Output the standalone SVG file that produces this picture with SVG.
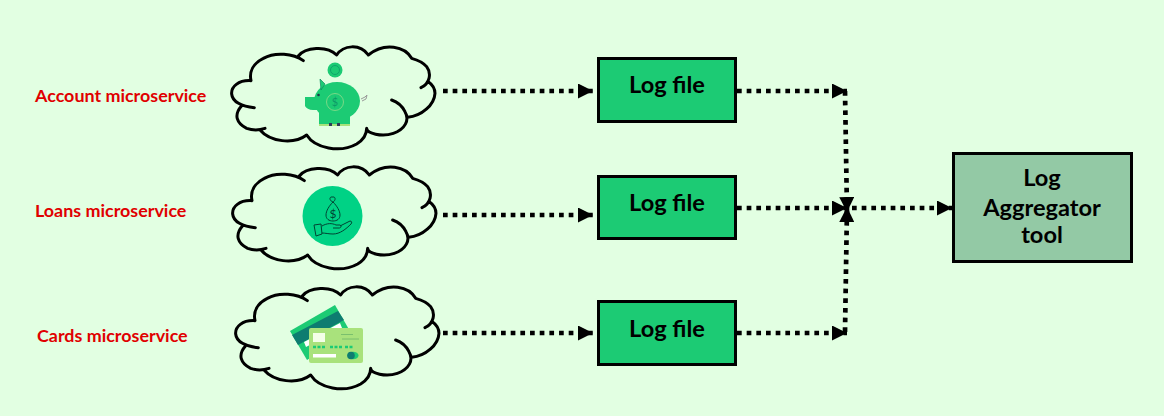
<svg xmlns="http://www.w3.org/2000/svg" width="1164" height="416" viewBox="0 0 1164 416">
<style>
.cloud{fill:none;stroke:#000;stroke-width:9;stroke-linecap:round;stroke-linejoin:round}
.box{fill:#1CCB74;stroke:#000;stroke-width:3}
.agg{fill:#93C9A5;stroke:#000;stroke-width:3}
.lbl{font-family:Lato,"Liberation Sans",sans-serif;font-weight:700;font-size:17.9px;fill:#E00000}
.t{font-family:Lato,"Liberation Sans",sans-serif;font-weight:700;font-size:23.6px;fill:#000;text-anchor:middle}
.c{fill:none;stroke:#000;stroke-width:4.7;stroke-dasharray:4.7 4.97}
.w{fill:#fff}
.ink{fill:none;stroke:#043;stroke-width:1}
</style>
<defs>
<marker id="a" markerUnits="userSpaceOnUse" markerWidth="15" markerHeight="15" refX="15" refY="7.5" orient="auto"><path d="M0 0L15 7.500L0 15Z" fill="#000"/></marker>
<path id="cl" class="cloud" d="M235 62C205 40 150 35 115 55C85 70 72 95 78 122C40 120 18 140 20 162C22 185 50 200 88 203M50 197C25 225 35 250 65 265C85 272 105 270 120 265M105 270C135 305 205 315 245 285C270 325 345 340 395 312C415 300 425 285 425 265C425 280 470 292 505 280C540 268 555 240 540 215C530 195 515 185 500 180M548 232C590 228 628 195 630 160C630 145 620 132 610 125M588 143C615 130 620 100 605 80C595 68 578 60 560 55C540 20 480 5 430 45C405 10 355 15 335 45C305 15 240 22 220 48"/>
</defs>
<rect width="1164" height="416" fill="#E2FFE2"/>
<g id="account-label"><text class="lbl" x="35" y="102">Account microservice</text></g>
<g id="loans-label"><text class="lbl" x="35" y="217">Loans microservice</text></g>
<g id="cards-label"><text class="lbl" x="37" y="342">Cards microservice</text></g>
<g id="account-cloud">
<use href="#cl" transform="translate(225 40) scale(.3333)"/>
<circle cx="335" cy="70" r="7.500" fill="#1CCB74"/><circle cx="335" cy="70" r="4.500" fill="none" stroke="#0E9A68" stroke-width=".8"/>
<ellipse cx="337" cy="101" rx="23" ry="19" fill="#1CCB74"/>
<path d="M305 97H318V110H313C309 110 306 108 305 106ZM319 112H350V126H319Z" fill="#1CCB74"/>
<path d="M319 124H350V126H319Z" fill="#A8E27A"/>
<path d="M329 123h3v3h-3zM337 123h3v3h-3z" fill="#2F3A5A"/>
<path d="M320 79L325 84L321 90Z" fill="#1CCB74" stroke="#0E8A60" stroke-width=".7"/>
<circle cx="335" cy="102" r="8.500" fill="none" stroke="#8FDC8A" stroke-width=".8"/>
<text x="335" y="106" font-family="Lato,sans-serif" font-size="11" fill="#0E9A68" text-anchor="middle">$</text>
<circle cx="318.500" cy="95" r="1.300" fill="#1B3A4A"/>
<path d="M361 99l4-2 2-2-1 4-4 2" fill="none" stroke="#999" stroke-width="1"/>
</g>
<g id="loans-cloud">
<use href="#cl" transform="translate(226 160) scale(.3333)"/>
<circle cx="332.500" cy="216" r="30" fill="#00D285"/>
<path class="ink" d="M333 202c-3-1-4-4-2-5h3c2 1 1 4-1 5c4 4 7 9 7 13c0 4-3 6-7 6c-4 0-7-2-7-6c0-4 3-9 7-13Z"/>
<text x="333" y="218" font-family="Lato,sans-serif" font-size="12" fill="#043" text-anchor="middle">$</text>
<path class="ink" d="M314 225l7-1 1 10-6 2ZM322 226c5-3 10-3 14-1h4c2 1 1 3-1 3h-6M340 226l10-5c2 0 2 2 1 3c-5 5-11 10-18 10c-4 0-8-1-11-1"/>
</g>
<g id="cards-cloud">
<use href="#cl" transform="translate(229 280) scale(.3333)"/>
<path d="M290 331L335 305L351 333L307 360Z" fill="#1CCB74"/>
<path d="M292 335L338 311L344 320L298 345Z" fill="#0E7C70"/>
<path d="M304 342L340 323L342 328L306 347Z" class="w"/>
<rect x="309" y="328" width="54" height="35" rx="2" fill="#A9E27C"/>
<rect x="313" y="333" width="12" height="9" fill="#F4FFE8"/>
<path d="M313 347h13M330 347h12M345 347h8" stroke="#1CCB74" stroke-width="2.500" stroke-dasharray="3 1.500"/>
<path d="M341 334.500h12M342 339h17" stroke="#6FB86A" stroke-width=".8"/>
<rect x="313" y="354" width="23" height="3.500" class="w"/>
<ellipse cx="353" cy="355.500" rx="5.500" ry="3.800" fill="#1CCB74"/>
<circle cx="351" cy="355.500" r="3.800" fill="#0E7C70"/>
</g>
<g id="connectors">
<path class="c" d="M443 91H593" marker-end="url(#a)"/>
<path class="c" d="M443 215H593" marker-end="url(#a)"/>
<path class="c" d="M443 333H593" marker-end="url(#a)"/>
<path class="c" d="M737 91H847" marker-end="url(#a)"/>
<path class="c" d="M737 208H847" marker-end="url(#a)"/>
<path class="c" d="M737 333H847" marker-end="url(#a)"/>
<path class="c" d="M845 91L847 212" marker-end="url(#a)"/>
<path class="c" d="M845 332L847 207" marker-end="url(#a)"/>
<path class="c" d="M852 208H952" marker-end="url(#a)"/>
</g>
<g id="log1"><rect class="box" x="598.500" y="58.500" width="137" height="63"/><text class="t" x="667" y="93">Log file</text></g>
<g id="log2"><rect class="box" x="598.500" y="176.500" width="137" height="62"/><text class="t" x="667" y="211">Log file</text></g>
<g id="log3"><rect class="box" x="598.500" y="301.500" width="137" height="63"/><text class="t" x="667" y="337">Log file</text></g>
<g id="aggregator"><rect class="agg" x="953.500" y="153.500" width="178" height="108"/><text class="t" x="1042" y="186">Log</text><text class="t" x="1042" y="216">Aggregator</text><text class="t" x="1042" y="243">tool</text></g>
</svg>
